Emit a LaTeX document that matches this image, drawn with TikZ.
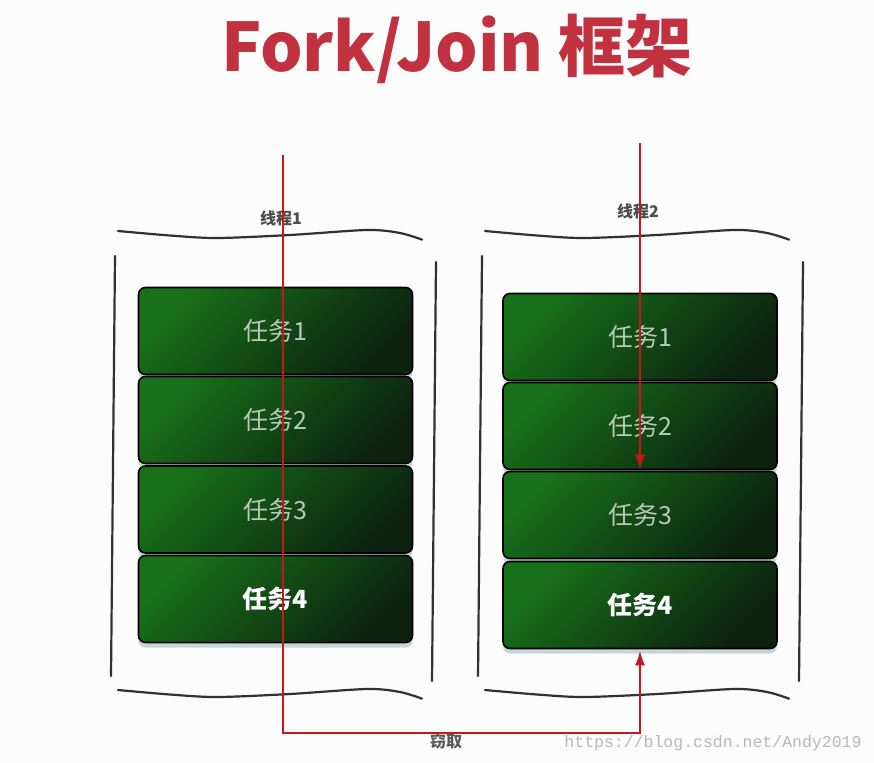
\documentclass[tikz,border=0pt]{standalone}
\usepackage{fontspec}
\newfontfamily\cjk{Noto Sans CJK SC}
\newfontfamily\wmfont{Liberation Mono}
\usepackage{tikz}
\usetikzlibrary{arrows,arrows.meta,shadows,calc}

\definecolor{titlered}{RGB}{193,49,64}
\definecolor{flowred}{RGB}{200,22,28}
\definecolor{boxlight}{RGB}{24,112,26}
\definecolor{boxdark}{RGB}{12,34,15}
\definecolor{tasktext}{RGB}{185,200,185}
\definecolor{pen}{RGB}{48,48,54}

\begin{document}
\begin{tikzpicture}[x=1pt,y=-1pt,>={Latex[length=15pt,width=10pt]},shorten >=1pt,
    task/.style={draw=black,line width=1.6pt,rounded corners=7pt,
      minimum width=274pt,minimum height=87pt,inner sep=0pt,
      top color=boxlight,bottom color=boxdark,shading angle=45,
      drop shadow={shadow xshift=0pt,shadow yshift=-5pt,fill=teal!45!gray,opacity=0.3},
      font=\cjk\fontsize{25}{25}\selectfont,text=tasktext},
    lasttask/.style={task,font=\cjk\bfseries\fontsize{25}{25}\selectfont,text=white},
    thread/.style={font=\cjk\bfseries\fontsize{16}{16}\selectfont,text=black!70},
    flow/.style={draw=flowred,line width=2.4pt},
    brace/.style={draw=pen,line width=2.2pt,line cap=round}]

      \fill[black!1] (0,0) rectangle (874,762);
      \useasboundingbox (0,0) rectangle (874,762);

      \node[anchor=base,text=titlered,font=\cjk\bfseries\fontsize{67}{67}\selectfont]
        (title) at (457,72) {Fork/Join 框架};

      % hand drawn frames
      \foreach \dx in {0,367}{
        \foreach \dy in {0,459}
          \draw[brace] plot[smooth] coordinates {(118+\dx,231+\dy) (170+\dx,235.5+\dy)
            (217+\dx,238+\dy) (290+\dx,235+\dy) (367+\dx,230+\dy) (400+\dx,233+\dy) (423+\dx,240+\dy)};
        \draw[brace] (115+\dx,256) -- (111+\dx,677);
        \draw[brace] (436+\dx,262) -- (432+\dx,682);
      }

      \node[thread] (thr1) at (281,218) {线程1};
      \node[thread] (thr2) at (638,211) {线程2};

      \node[task] (t11) at (275.5,331) {任务1};
      \node[task] (t12) at (275.5,420) {任务2};
      \node[task] (t13) at (275.5,509.5) {任务3};
      \node[lasttask] (t14) at (275.5,599) {任务4};

      \node[task] (t21) at (640,337) {任务1};
      \node[task] (t22) at (640,426) {任务2};
      \node[task] (t23) at (640,515) {任务3};
      \node[lasttask] (t24) at (640,605) {任务4};

      \coordinate (start1) at (283,155);
      \coordinate (start2) at (640,143);
      \coordinate (turn) at (640,733);

      \draw[flow,->] (start1) |- (turn) -- (t24.south);
      \path (start2) edge[flow,->] (t23);

      \node[font=\cjk\bfseries\fontsize{16}{16}\selectfont,text=black!65] (steal) at (446,741) {窃取};
      \node[font=\wmfont\fontsize{16.5}{16.5}\selectfont,text=black!28] (mark) at (713,743) {https://blog.csdn.net/Andy2019};

\end{tikzpicture}
\end{document}
